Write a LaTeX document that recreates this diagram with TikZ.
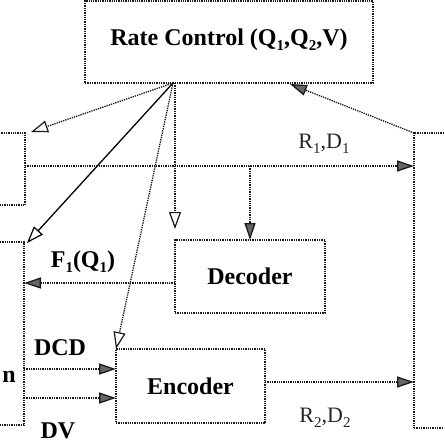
\documentclass[tikz,border=0pt]{standalone}
\usepackage{fontspec}
\setmainfont{Liberation Serif}
\usetikzlibrary{arrows.meta,calc}
\newcommand{\lowsub}[1]{\raisebox{-0.45ex}{\fontsize{15}{15}\selectfont #1}}
\tikzset{
  x=1pt, y=-1pt,
  blk/.style={draw=black!90, densely dotted, line width=1.3pt, inner sep=0pt, outer sep=0pt},
  lbl/.style={font=\fontsize{24}{28}\selectfont\bfseries, inner sep=0pt},
  rlbl/.style={font=\fontsize{22}{26}\selectfont, inner sep=0pt, text=black!85},
  ln/.style={draw=black!90, densely dotted, line width=1.3pt},
  hollow/.style={-{Triangle[open, length=17pt, width=12pt, line width=1.2pt]}},
  filled/.style={-{Triangle[length=17pt, width=11pt, fill=black!60]}, },
}
\begin{document}
\begin{tikzpicture}
\useasboundingbox (0,0) rectangle (444,444);
\clip (0,0) rectangle (444,444);
\fill[white] (0,0) rectangle (444,444);
% boxes
\node[blk, minimum width=288pt, minimum height=82pt, anchor=north west] (rc) at (85,1) {};
\node[lbl] (rct) at (229,40) {Rate Control (Q\lowsub{1},Q\lowsub{2},V)};
\node[blk, minimum width=85pt, minimum height=72pt, anchor=north east] (ltop) at (25,133) {};
\node[blk, minimum width=84pt, minimum height=183pt, anchor=north east] (lbot) at (24,242) {};
\node[blk, minimum width=86pt, minimum height=295pt, anchor=north west] (rbox) at (414,133) {};
\node[blk, minimum width=150pt, minimum height=73pt, anchor=north west] (dec) at (175,240) {};
\node[lbl] at (dec.center) {Decoder};
\node[blk, minimum width=149pt, minimum height=74pt, anchor=north west] (enc) at (116,349) {};
\node[lbl] at (enc.center) {Encoder};
% coordinates
\coordinate (rcA) at (173,83);
\coordinate (rcB) at (175,83);
\coordinate (rcC) at (290,84);
\coordinate (ltopT) at (31,132);
\coordinate (lbotT) at (27,243);
\coordinate (decT) at (175,229);
\coordinate (yR) at (0,166);
\coordinate (xB) at (250,0);
\coordinate (yF) at (0,283);
\coordinate (yDCD) at (0,369);
\coordinate (yDV) at (0,398);
\coordinate (yE) at (0,382);
% connectors from rate control
\draw[ln, hollow] (rcA) -- (ltopT);
\draw[draw=black, line width=1.3pt, hollow] (rcA) -- (lbotT);
\draw[ln, hollow] (rcA) -- (enc.north west);
\draw[ln, hollow] (rcB) -- (decT);
\draw[ln, filled] (rbox.north west) -- (rcC);
% R1,D1
\draw[ln, filled] (ltop.east |- yR) -- (rbox.west |- yR);
\draw[ln, filled] (xB |- yR) -- (dec.north);
\node[rlbl] at (324,144) {R\lowsub{1},D\lowsub{1}};
% F1(Q1)
\draw[ln, filled] (dec.west |- yF) -- (lbot.east |- yF);
\node[lbl] at (83,262) {F\lowsub{1}(Q\lowsub{1})};
% encoder inputs
\draw[ln, filled] (lbot.east |- yDCD) -- (enc.west |- yDCD);
\draw[ln, filled] (lbot.east |- yDV) -- (enc.west |- yDV);
\node[lbl] at (60,348) {DCD};
\node[lbl] at (58,431) {DV};
\node[lbl, anchor=base] at (9,382) {n};
% encoder output
\draw[ln, filled] (enc.east |- yE) -- (rbox.west |- yE);
\node[rlbl] at (325,418) {R\lowsub{2},D\lowsub{2}};
\end{tikzpicture}
\end{document}
